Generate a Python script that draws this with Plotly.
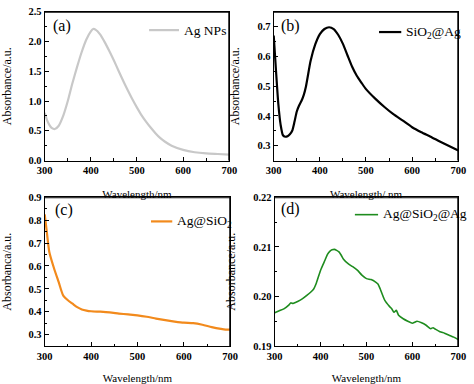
import plotly.graph_objects as go

# ---- data ----
wl_a = [300, 305, 310, 315, 322, 330, 340, 350, 360, 370, 380, 390, 400, 405, 410, 420, 430, 440, 450, 460, 470, 480, 490, 500, 510, 520, 530, 540, 550, 560, 575, 600, 625, 650, 675, 700]
abs_a = [0.80, 0.68, 0.60, 0.55, 0.53, 0.58, 0.75, 1.00, 1.30, 1.57, 1.82, 2.03, 2.17, 2.21, 2.20, 2.12, 1.99, 1.84, 1.68, 1.51, 1.34, 1.18, 1.03, 0.89, 0.76, 0.65, 0.55, 0.46, 0.38, 0.32, 0.25, 0.18, 0.14, 0.12, 0.11, 0.10]

wl_b = [300, 305, 310, 315, 320, 325, 330, 335, 340, 345, 350, 355, 360, 365, 370, 380, 390, 400, 410, 420, 430, 440, 450, 460, 470, 480, 490, 500, 520, 540, 560, 580, 600, 620, 640, 660, 680, 700]
abs_b = [0.67, 0.55, 0.44, 0.37, 0.335, 0.33, 0.332, 0.338, 0.35, 0.38, 0.415, 0.435, 0.45, 0.47, 0.50, 0.585, 0.64, 0.675, 0.692, 0.698, 0.692, 0.672, 0.642, 0.603, 0.565, 0.535, 0.512, 0.49, 0.458, 0.43, 0.405, 0.384, 0.362, 0.345, 0.33, 0.314, 0.299, 0.284]

wl_c = [300, 305, 310, 320, 330, 340, 350, 360, 370, 380, 390, 400, 420, 440, 460, 480, 500, 520, 540, 560, 580, 600, 620, 640, 660, 680, 690, 700]
abs_c = [0.825, 0.74, 0.66, 0.59, 0.53, 0.47, 0.45, 0.435, 0.42, 0.41, 0.405, 0.402, 0.40, 0.397, 0.392, 0.388, 0.384, 0.378, 0.37, 0.363, 0.357, 0.352, 0.35, 0.343, 0.333, 0.325, 0.322, 0.322]

wl_d = [300, 310, 320, 330, 335, 340, 345, 350, 360, 370, 380, 385, 390, 400, 410, 415, 420, 425, 430, 435, 440, 445, 450, 460, 470, 480, 490, 500, 510, 520, 525, 530, 540, 550, 555, 560, 565, 570, 580, 590, 600, 605, 610, 620, 630, 640, 645, 650, 660, 670, 680, 690, 700]
abs_d = [0.1967, 0.1971, 0.1975, 0.1982, 0.1987, 0.1986, 0.1988, 0.1990, 0.1995, 0.2002, 0.2010, 0.2015, 0.2025, 0.2053, 0.2074, 0.2085, 0.2091, 0.2094, 0.2095, 0.2093, 0.2090, 0.2083, 0.2075, 0.2066, 0.2060, 0.2053, 0.2043, 0.2036, 0.2034, 0.2029, 0.2025, 0.2015, 0.1992, 0.1980, 0.1975, 0.1968, 0.1972, 0.1962, 0.1955, 0.1950, 0.1946, 0.1948, 0.1950, 0.1947, 0.1942, 0.1935, 0.1937, 0.1934, 0.1929, 0.1926, 0.1922, 0.1918, 0.1913]

names = ["Ag NPs", "SiO<sub>2</sub>@Ag", "Ag@SiO<sub>2</sub>", "Ag@SiO<sub>2</sub>@Ag"]
labels = ["(a)", "(b)", "(c)", "(d)"]
colors = ["#c8c8c8", "#000000", "#f28a1c", "#1e8c1e"]
ytitles = ["Absorbance/a.u.", "Absorbance/a.u.", "Absorbanca/a.u.", "Absorbance/a.u."]
xtitles = ["Wavelength/nm", "Wavelength/ nm", "Wavelength/nm", "Wavelength/nm"]
yranges = [[0, 2.5], [0.25, 0.75], [0.25, 0.9], [0.19, 0.22]]
ydtick = [0.5, 0.1, 0.1, 0.01]
ytick0 = [0, 0.3, 0.3, 0.19]
yfmt = [".1f", ".1f", ".1f", ".2f"]

W, H = 474, 384
boxes = [(38, 229, 7, 161), (275, 466, 7, 161), (38, 230, 199, 353), (276, 466, 199, 353)]
# legend sample line (x start, x end, y) and label anchor positions in pixels
leg_pos = [(146, 177, 26), (384, 407, 28), (148, 170, 224), (359, 383, 217)]
lab_pos = [(45, 22), (280, 22), (47, 212), (280, 211)]
xs = [wl_a, wl_b, wl_c, wl_d]
ys = [abs_a, abs_b, abs_c, abs_d]
widths = [2.2, 2.2, 2.2, 1.6]

serif = "Liberation Serif"
fig = go.Figure()
layout = dict(width=W, height=H, margin=dict(l=0, r=0, t=0, b=0),
              paper_bgcolor="white", plot_bgcolor="white", showlegend=False,
              font=dict(family=serif, color="black"))
annotations = []
shapes = []


def pline(xa, ya, xb, yb, color, width):
    return dict(type="line", xref="paper", yref="paper", x0=xa / W, x1=xb / W,
                y0=1 - ya / H, y1=1 - yb / H, line=dict(color=color, width=width), layer="above")


for i in range(4):
    sfx = "" if i == 0 else str(i + 1)
    x0, x1, y0, y1 = boxes[i]
    fig.add_trace(go.Scatter(x=xs[i], y=ys[i], mode="lines", name=names[i],
                             line=dict(color=colors[i], width=widths[i], shape="spline", smoothing=0.6),
                             xaxis="x" + sfx, yaxis="y" + sfx))
    common = dict(showline=True, linecolor="black", linewidth=1, mirror=True,
                  ticks="inside", ticklen=4, tickcolor="black", showgrid=False, zeroline=False,
                  tickfont=dict(family=serif, size=10.5, weight="bold"))
    layout["xaxis" + sfx] = dict(domain=[x0 / W, x1 / W], anchor="y" + sfx, range=[300, 700],
                                 tick0=300, dtick=100,
                                 minor=dict(ticks="inside", ticklen=2.5, dtick=50, tickcolor="black", showgrid=False),
                                 title=dict(text=xtitles[i], font=dict(family=serif, size=11)),
                                 **common)
    layout["yaxis" + sfx] = dict(domain=[1 - y1 / H, 1 - y0 / H], anchor="x" + sfx, range=yranges[i],
                                 tick0=ytick0[i], dtick=ydtick[i], tickformat=yfmt[i],
                                 minor=dict(ticks="inside", ticklen=2.5, dtick=ydtick[i] / 2, tickcolor="black", showgrid=False),
                                 title=dict(text=ytitles[i], font=dict(family=serif, size=12)),
                                 **common)
    # top and right frame edges as separate line shapes
    shapes.append(pline(x0, y0 + 0.5, x1, y0 + 0.5, "black", 1))
    shapes.append(pline(x1 - 0.5, y0, x1 - 0.5, y1, "black", 1))
    lx0, lx1, ly = leg_pos[i]
    shapes.append(pline(lx0, ly, lx1, ly, colors[i], widths[i]))
    annotations.append(dict(text=names[i], x=(lx1 + 3) / W, y=1 - ly / H, xref="paper", yref="paper",
                            xanchor="left", yanchor="middle", showarrow=False,
                            font=dict(family=serif, size=13.5)))
    px, py = lab_pos[i]
    annotations.append(dict(text=labels[i], x=px / W, y=1 - py / H, xref="paper", yref="paper",
                            xanchor="left", yanchor="middle", showarrow=False,
                            font=dict(family=serif, size=16)))
layout["annotations"] = annotations
layout["shapes"] = shapes
fig.update_layout(**layout)
fig.write_html("out.html", config={"displayModeBar": False},
               post_script="document.body.style.margin='0';document.body.style.padding='0';")
